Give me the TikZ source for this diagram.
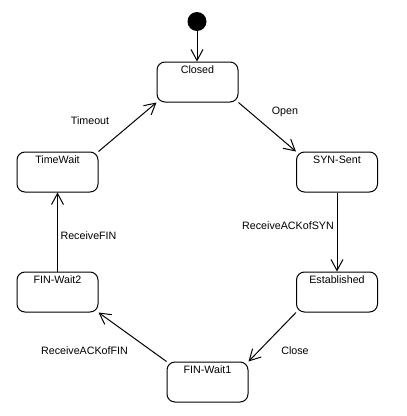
\documentclass[tikz,border=0pt]{standalone}
\usepackage{fontspec}
\setmainfont{Liberation Sans}
\usetikzlibrary{arrows.meta}
\begin{document}
\begin{tikzpicture}[x=1pt,y=-1pt,
  every node/.style={font=\fontsize{10.7pt}{12pt}\selectfont},
  state/.style={draw, rectangle, rounded corners=8pt, line width=1pt,
    minimum width=81pt, minimum height=40pt, inner sep=0pt,
    text height=11.5pt, text depth=28.5pt},
  tr/.style={line width=1pt, -{Straight Barb[length=11pt,width=12pt,line width=1pt]}},
  lbl/.style={anchor=base, inner sep=0pt}]
  \fill[white] (0,0) rectangle (407,416);
  \useasboundingbox (0,0) rectangle (407,416);
  \node[circle, fill=black, minimum size=19pt, inner sep=0pt] (init) at (197,21.5) {};
  \node[state] (closed) at (197.5,82) {Closed};
  \node[state] (synsent) at (337,172) {SYN-Sent};
  \node[state] (established) at (337,292) {Established};
  \node[state] (finwait1) at (207.5,382) {FIN-Wait1};
  \node[state] (finwait2) at (57.5,292) {FIN-Wait2};
  \node[state] (timewait) at (57.5,172) {TimeWait};
  \draw[tr] (init) -- (init |- closed.north);
  \draw[tr] (closed.south east) -- (synsent.north west);
  \draw[tr] (synsent) -- (established);
  \draw[tr] (established.south west) -- (finwait1.north east);
  \draw[tr] (finwait1.north west) -- (finwait2.south east);
  \draw[tr] (finwait2) -- (timewait);
  \draw[tr] (timewait.north east) -- (closed.south west);
  \node[lbl] (lopen) at (285,114.3) {Open};
  \node[lbl] (ltimeout) at (90,124) {Timeout};
  \node[lbl] (lrecfin) at (88.5,239.5) {ReceiveFIN};
  \node[lbl] (lacksyn) at (288,229) {ReceiveACKofSYN};
  \node[lbl] (lackfin) at (84.5,354) {ReceiveACKofFIN};
  \node[lbl] (lclose) at (295,354) {Close};
\end{tikzpicture}
\end{document}
